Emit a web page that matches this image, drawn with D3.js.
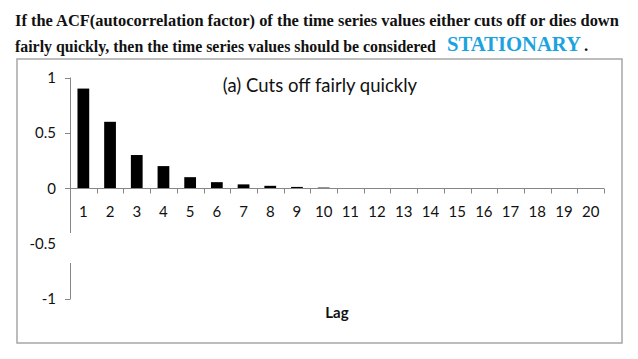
<!DOCTYPE html>
<html>
<head>
<meta charset="utf-8">
<script src="https://cdn.jsdelivr.net/npm/d3@7"></script>
<style>
  body { margin: 0; background: #fff; }
  svg { display: block; }
</style>
</head>
<body>
<div id="chart"></div>
<script>
// ACF values by lag
const lags = d3.range(1, 21).map(String);
const acf = [0.9, 0.6, 0.3, 0.2, 0.1, 0.055, 0.035, 0.022, 0.012, 0.006,
             0, 0, 0, 0, 0, 0, 0, 0, 0, 0];
const yTicks = [1, 0.5, 0, -0.5, -1];
const yTickLabels = ["1", "0.5", "0", "-0.5", "-1"];

const width = 638, height = 359;
const svg = d3.select("#chart").append("svg")
    .attr("width", width).attr("height", height);

// header text, sized so each piece fills the width it has in the original
function fitText(sel, base, target) {
  sel.style("font-size", base + "px");
  const w = sel.node().getComputedTextLength();
  sel.style("font-size", (base * target / w).toFixed(2) + "px");
}
const head = svg.append("g")
    .style("font-family", "'Liberation Serif', 'Times New Roman', serif")
    .style("font-weight", "bold")
    .style("fill", "#111");
const line1 = head.append("text")
    .attr("x", 15).attr("y", 26)
    .text("If the ACF(autocorrelation factor) of the time series values either cuts off or dies down");
fitText(line1, 16, 604);
const line2 = head.append("text")
    .attr("x", 15).attr("y", 52)
    .text("fairly quickly, then the time series values should be considered");
fitText(line2, 16, 421);
const stat = head.append("text")
    .attr("x", 447).attr("y", 51)
    .style("fill", "#1ba3e0")
    .text("STATIONARY");
fitText(stat, 21, 134);
head.append("text")
    .attr("x", 584).attr("y", 51)
    .style("font-size", "17px")
    .text(".");

// chart frame
svg.append("rect")
    .attr("x", 17).attr("y", 59)
    .attr("width", 605).attr("height", 284)
    .attr("fill", "none")
    .attr("stroke", "#a6a6a6")
    .attr("stroke-width", 1.5);

const x = d3.scaleBand().domain(lags).range([70, 604]);
const y = d3.scaleLinear().domain([-1, 1]).range([299, 77.5]);

// bars
svg.append("g").selectAll("rect")
    .data(acf)
    .enter().append("rect")
    .attr("x", (d, i) => x(lags[i]) + x.bandwidth() * 0.28)
    .attr("width", x.bandwidth() * 0.44)
    .attr("y", d => y(Math.max(d, 0)))
    .attr("height", d => Math.abs(y(d) - y(0)))
    .attr("fill", "#000");

// y axis (gap near -0.5 label like the original)
const axisColor = "#868686";
const yAxis = svg.append("g").attr("stroke", axisColor).attr("stroke-width", 1);
yAxis.append("line")
    .attr("x1", 70.5).attr("x2", 70.5)
    .attr("y1", y(1)).attr("y2", 233);
yAxis.append("line")
    .attr("x1", 70.5).attr("x2", 70.5)
    .attr("y1", 263).attr("y2", y(-1));
yTicks.filter(t => t !== -0.5 && t !== 0).forEach(t => {
  yAxis.append("line")
      .attr("x1", 65).attr("x2", 70.5)
      .attr("y1", Math.round(y(t)) + 0.5).attr("y2", Math.round(y(t)) + 0.5);
});

svg.append("g").selectAll("text")
    .data(yTicks)
    .enter().append("text")
    .attr("x", 56)
    .attr("y", d => y(d))
    .attr("dy", "0.35em")
    .attr("text-anchor", "end")
    .style("font-family", "Lato, 'Open Sans', sans-serif")
    .style("font-size", "15px")
    .style("fill", "#111")
    .text((d, i) => yTickLabels[i]);

// x axis at zero
const xAxis = svg.append("g").attr("stroke", axisColor).attr("stroke-width", 1);
const y0 = Math.round(y(0)) + 0.5;
xAxis.append("line")
    .attr("x1", 65).attr("x2", 604)
    .attr("y1", y0).attr("y2", y0);
xAxis.selectAll(".tk")
    .data(lags.slice(1).concat(["end"]))
    .enter().append("line")
    .attr("x1", d => Math.round(d === "end" ? 604 : x(d)) + 0.5)
    .attr("x2", d => Math.round(d === "end" ? 604 : x(d)) + 0.5)
    .attr("y1", y0).attr("y2", y0 + 5);

svg.append("g").selectAll("text")
    .data(lags)
    .enter().append("text")
    .attr("x", d => x(d) + x.bandwidth() / 2)
    .attr("y", 212)
    .attr("dy", "0.35em")
    .attr("text-anchor", "middle")
    .style("font-family", "Lato, 'Open Sans', sans-serif")
    .style("font-size", "15px")
    .style("fill", "#111")
    .text(d => d);

// chart title
svg.append("text")
    .attr("x", 320).attr("y", 92)
    .attr("text-anchor", "middle")
    .style("font-family", "Lato, 'Open Sans', sans-serif")
    .style("font-size", "18.5px")
    .style("fill", "#111")
    .text("(a) Cuts off fairly quickly");

// axis title
svg.append("text")
    .attr("x", 337).attr("y", 313)
    .attr("dy", "0.35em")
    .attr("text-anchor", "middle")
    .style("font-family", "Lato, 'Open Sans', sans-serif")
    .style("font-size", "15px")
    .style("font-weight", "bold")
    .style("fill", "#111")
    .text("Lag");
</script>
</body>
</html>
